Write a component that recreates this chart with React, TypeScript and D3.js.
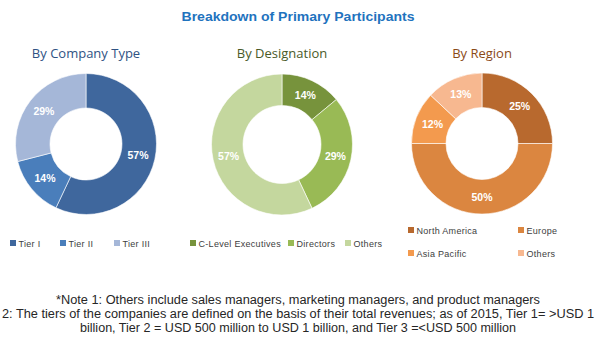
import React, { useEffect, useRef } from 'react';
import * as d3 from 'd3';

const W = 597;
const H = 358;

const companyLabels = ['Tier I', 'Tier II', 'Tier III'];
const companyValues = [57, 14, 29];
const companyColors = ['#3F679D', '#4A7EBB', '#A5B7D8'];

const designationLabels = ['C-Level Executives', 'Directors', 'Others'];
const designationValues = [14, 29, 57];
const designationColors = ['#77933C', '#99BA55', '#C4D79E'];

const regionLabels = ['North America', 'Europe', 'Asia Pacific', 'Others'];
const regionValues = [25, 50, 12, 13];
const regionColors = ['#B8692E', '#DB8640', '#F39A4E', '#F7B890'];

const footnotes = [
  '*Note 1: Others include sales managers, marketing managers, and product managers',
  '2: The tiers of the companies are defined on the basis of their total revenues; as of 2015, Tier 1= >USD 1',
  'billion, Tier 2 = USD 500 million to USD 1 billion, and Tier 3 =<USD 500 million',
];

interface Donut {
  title: string;
  titleColor: string;
  cx: number;
  cy: number;
  inner: number;
  labels: string[];
  values: number[];
  colors: string[];
}

const donuts: Donut[] = [
  { title: 'By Company Type', titleColor: '#2F5283', cx: 86, cy: 144, inner: 36, labels: companyLabels, values: companyValues, colors: companyColors },
  { title: 'By Designation', titleColor: '#4A5A28', cx: 282, cy: 144.5, inner: 39, labels: designationLabels, values: designationValues, colors: designationColors },
  { title: 'By Region', titleColor: '#8A4A17', cx: 482, cy: 143.5, inner: 36, labels: regionLabels, values: regionValues, colors: regionColors },
];

// legend anchor points (square x, baseline y) per chart
const legendPos = [
  [[10, 247], [60, 247], [114, 247]],
  [[190, 247], [288, 247], [345, 247]],
  [[408, 234], [518, 234], [408, 257], [518, 257]],
];

const App: React.FC = () => {
  const svgRef = useRef<SVGSVGElement>(null);

  useEffect(() => {
    if (!svgRef.current) return;
    const svg = d3.select(svgRef.current);
    svg.selectAll('*').remove();

    svg.append('rect').attr('width', W).attr('height', H).attr('fill', '#fff');

    svg.append('text')
      .attr('x', 298)
      .attr('y', 21)
      .attr('text-anchor', 'middle')
      .style('font-family', 'Liberation Sans, Arial, sans-serif')
      .style('font-weight', 'bold')
      .style('font-size', '13px')
      .attr('textLength', 233)
      .attr('lengthAdjust', 'spacingAndGlyphs')
      .style('fill', '#1F73BE')
      .text('Breakdown of Primary Participants');

    const pie = d3.pie<number>().sort(null).value(d => d);

    donuts.forEach((dn, i) => {
      const g = svg.append('g').attr('transform', `translate(${dn.cx},${dn.cy})`);
      const arc = d3.arc<d3.PieArcDatum<number>>().innerRadius(dn.inner).outerRadius(70.5);
      const arcs = pie(dn.values);

      g.selectAll('path')
        .data(arcs)
        .enter()
        .append('path')
        .attr('d', arc)
        .attr('fill', (_, j) => dn.colors[j])
        .attr('stroke', '#fff')
        .attr('stroke-width', 0.6);

      g.selectAll('text.pct')
        .data(arcs)
        .enter()
        .append('text')
        .attr('class', 'pct')
        .attr('transform', d => `translate(${arc.centroid(d)})`)
        .attr('text-anchor', 'middle')
        .attr('dy', '0.36em')
        .style('font-family', 'Liberation Sans, Arial, sans-serif')
        .style('font-weight', 'bold')
        .style('font-size', '10.5px')
        .style('fill', '#fff')
        .text(d => `${d.data}%`);

      svg.append('text')
        .attr('x', dn.cx)
        .attr('y', 58)
        .attr('text-anchor', 'middle')
        .style('font-family', 'Open Sans, sans-serif')
        .style('font-size', '13px')
        .style('fill', dn.titleColor)
        .text(dn.title);

      const lg = svg.append('g');
      dn.labels.forEach((lab, j) => {
        const [x, y] = legendPos[i][j];
        lg.append('rect')
          .attr('x', x)
          .attr('y', y - 7)
          .attr('width', 6)
          .attr('height', 6)
          .attr('fill', dn.colors[j]);
        lg.append('text')
          .attr('x', x + 8.5)
          .attr('y', y)
          .style('font-family', 'Liberation Sans, Arial, sans-serif')
          .style('font-size', '9px')
          .style('letter-spacing', '0.3px')
          .style('fill', '#404040')
          .text(lab);
      });
    });

    const noteY = [304, 318, 332];
    const noteW = [484, 592, 436];
    footnotes.forEach((t, i) => {
      svg.append('text')
        .attr('x', 298)
        .attr('y', noteY[i])
        .attr('text-anchor', 'middle')
        .style('font-family', 'Liberation Sans Narrow, Liberation Sans, Arial, sans-serif')
        .style('font-size', '12px')
        .attr('textLength', noteW[i])
        .attr('lengthAdjust', 'spacingAndGlyphs')
        .style('fill', '#262626')
        .text(t);
    });
  }, []);

  return (
    <svg
      ref={svgRef}
      width={W}
      height={H}
      style={{ position: 'absolute', left: 0, top: 0, display: 'block' }}
    />
  );
};

export default App;
